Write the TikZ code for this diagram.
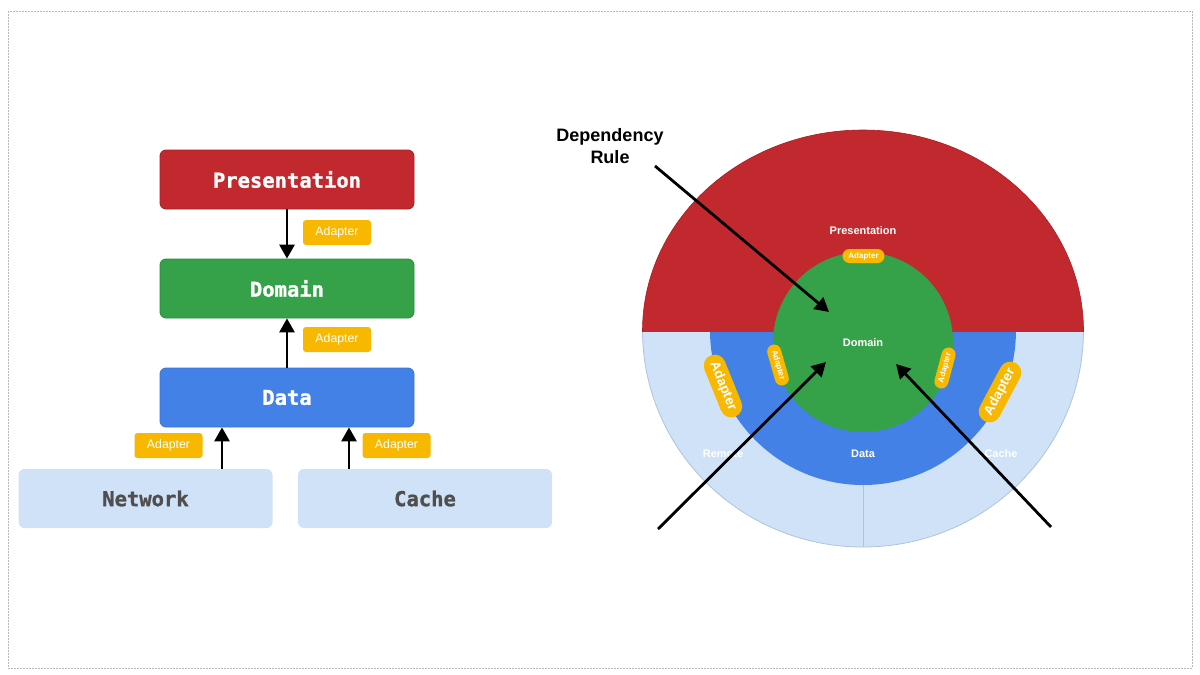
\documentclass[tikz,border=0pt]{standalone}
\usepackage{fontspec}
\setmainfont{Liberation Sans}
\setmonofont{DejaVu Sans Mono}[BoldFeatures={FakeBold=1.2}]
\usetikzlibrary{arrows.meta,shapes.misc}
\definecolor{cred}{HTML}{C1292E}
\definecolor{credb}{HTML}{A81E23}
\definecolor{cgreen}{HTML}{35A148}
\definecolor{cgreenb}{HTML}{2B8A3C}
\definecolor{cblue}{HTML}{4381E7}
\definecolor{cblueb}{HTML}{3A74D6}
\definecolor{clight}{HTML}{D0E2F7}
\definecolor{cring}{HTML}{AFC3DA}
\definecolor{cgraytxt}{HTML}{4F4F4F}
\definecolor{corange}{HTML}{F8B800}
\tikzset{
  layer/.style={rectangle, rounded corners=6pt, minimum width=254pt, minimum height=59pt,
    inner sep=0pt, font=\fontsize{20.5}{24}\selectfont\ttfamily\bfseries, text=white, line width=0.8pt},
  adapterbox/.style={rectangle, rounded corners=3pt, fill=corange, minimum width=68pt,
    minimum height=25pt, inner sep=0pt, text=white, font=\fontsize{12.3}{14}\selectfont},
  pillsmall/.style={rounded rectangle, fill=corange, minimum width=42pt, minimum height=14pt,
    inner sep=0pt, text=white, font=\fontsize{8}{9}\selectfont\bfseries},
  pillbig/.style={rounded rectangle, fill=corange, minimum width=66pt, minimum height=22pt,
    inner sep=0pt, text=white, font=\fontsize{13.5}{15}\selectfont\bfseries},
  ringlabel/.style={text=white, font=\fontsize{11}{13}\selectfont\bfseries, inner sep=0pt},
  arr/.style={-{Triangle[width=15pt,length=14pt]}, line width=2.8pt, black},
}
\begin{document}
\begin{tikzpicture}[x=1pt,y=-1pt]
\useasboundingbox (0,0) rectangle (1200,675);
\fill[white] (0,0) rectangle (1200,675);
\draw[black!28, line width=0.8pt, dash pattern=on 2pt off 1pt] (8,11) rectangle (1192,668);

% ---------- left stack ----------
\node[layer, fill=cred, draw=credb] (pres) at (287,179.5) {Presentation};
\node[layer, fill=cgreen, draw=cgreenb] (dom) at (287,288.5) {Domain};
\node[layer, fill=cblue, draw=cblueb] (data) at (287,397.5) {Data};
\node[layer, fill=clight, text=cgraytxt] (net) at (145.5,498.5) {Network};
\node[layer, fill=clight, text=cgraytxt] (cache) at (425,498.5) {Cache};

\node[adapterbox] (ad1) at (337,232.5) {Adapter};
\node[adapterbox] (ad2) at (337,339.5) {Adapter};
\node[adapterbox] (ad3) at (168.5,445.5) {Adapter};
\node[adapterbox] (ad4) at (396.5,445.5) {Adapter};

\coordinate (nx) at (222,0);
\coordinate (cx) at (349,0);
\draw[arr] (pres.south) -- (dom.north);
\draw[arr] (data.north) -- (dom.south);
\draw[arr] (net.north -| nx) -- (data.south -| nx);
\draw[arr] (cache.north -| cx) -- (data.south -| cx);

% ---------- onion diagram ----------
\begin{scope}
  \clip (600,330) rectangle (1120,600);
  \fill[clight, draw=cring, line width=0.8pt] (863,330) ellipse [x radius=220.5pt, y radius=217pt];
  \fill[cblue] (863,330) ellipse [x radius=153pt, y radius=155pt];
\end{scope}
\draw[cring, line width=0.8pt] (863,485) -- (863,547);
\begin{scope}
  \clip (600,100) rectangle (1120,331);
  \fill[cred, draw=credb, line width=0.6pt] (863,331) ellipse [x radius=220.5pt, y radius=201pt];
\end{scope}
\node[circle, fill=cgreen, minimum size=180pt, inner sep=0pt] (core) at (863,342) {};

\node[ringlabel] (lp) at (863,231) {Presentation};
\node[ringlabel] (ld) at (863,343) {Domain};
\node[ringlabel] (lda) at (863,454) {Data};
\node[ringlabel] (lr) at (723,454) {Remote};
\node[ringlabel] (lc) at (1001,454) {Cache};

\node[pillsmall] (p1) at (863.5,256) {Adapter};
\node[pillsmall, rotate=-74] (p2) at (778,365) {Adapter};
\node[pillsmall, rotate=75] (p3) at (945,368) {Adapter};
\node[pillbig, rotate=-68] (p4) at (723,386) {Adapter};
\node[pillbig, rotate=62] (p5) at (1000,392) {Adapter};

\node[font=\fontsize{18}{22}\selectfont\bfseries, align=center, inner sep=0pt] (rule) at (610,146) {Dependency\\Rule};

\coordinate (s1) at (655,166);
\coordinate (e1) at (829,312);
\coordinate (s2) at (658,529);
\coordinate (e2) at (826,362);
\coordinate (s3) at (1051,527);
\coordinate (e3) at (896,364);
\draw[arr] (s1) -- (e1);
\draw[arr] (s2) -- (e2);
\draw[arr] (s3) -- (e3);
\end{tikzpicture}
\end{document}
